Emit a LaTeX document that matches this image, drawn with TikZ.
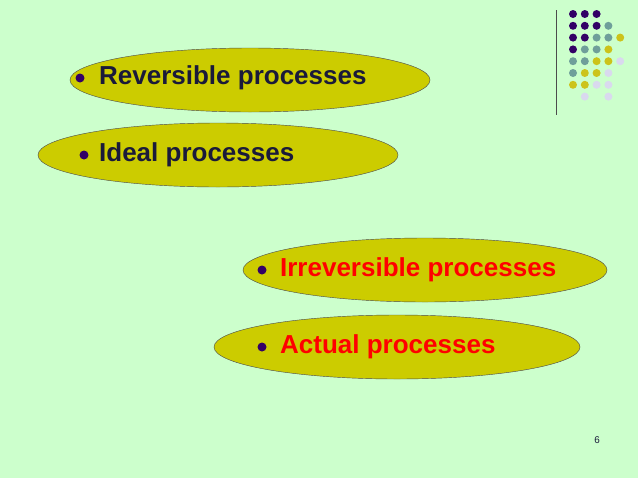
\documentclass[tikz,border=0pt]{standalone}
\usepackage{fontspec}
\setmainfont{Liberation Sans}
\definecolor{bgreen}{HTML}{CCFFCC}
\definecolor{olive}{HTML}{CCCC00}
\definecolor{dpurple}{HTML}{330066}
\definecolor{sgrey}{HTML}{6F9F9A}
\definecolor{dyellow}{HTML}{CCC31A}
\definecolor{lilac}{HTML}{D9D9EE}
\definecolor{navy}{HTML}{1A1A3A}
\tikzset{
  oval/.style={draw=black!70, line width=0.6pt, fill=olive},
  bullet/.style={circle, inner sep=0pt, minimum size=4.5mm, fill=dpurple},
  item/.style={anchor=west, font=\fontsize{37}{42}\selectfont\bfseries, inner sep=0pt},
  dot/.style={circle, inner sep=0pt, minimum size=4mm, fill=#1}
}
\begin{document}
\begin{tikzpicture}[x=0.05cm, y=-0.05cm]
\useasboundingbox[fill=bgreen] (0,0) rectangle (638,478);

% -- ovals
\draw[oval] (250,80) ellipse (180 and 32);
\draw[oval] (218,155) ellipse (180 and 32);
\draw[oval] (425,270) ellipse (182 and 32);
\draw[oval] (397,347) ellipse (183 and 32);

% -- items
\node[bullet] (b1) at (80,78) {};
\node[item, text=navy] (t1) at (99,78) {Reversible processes};
\node[bullet] (b2) at (84,155) {};
\node[item, text=navy] (t2) at (99,155) {Ideal processes};
\node[bullet] (b3) at (262,270) {};
\node[item, text=red] (t3) at (280,270) {Irreversible processes};
\node[bullet] (b4) at (262,347) {};
\node[item, text=red] (t4) at (280,347) {Actual processes};

% -- corner decoration
\draw[black!70, line width=0.8pt] (556,10) -- (556,115);
\foreach \i/\r/\col in {0/0/dpurple,1/0/dpurple,2/0/dpurple,
    0/1/dpurple,1/1/dpurple,2/1/dpurple,3/1/sgrey,
    0/2/dpurple,1/2/dpurple,2/2/sgrey,3/2/sgrey,4/2/dyellow,
    0/3/dpurple,1/3/sgrey,2/3/sgrey,3/3/dyellow,
    0/4/sgrey,1/4/sgrey,2/4/dyellow,3/4/dyellow,4/4/lilac,
    0/5/sgrey,1/5/dyellow,2/5/dyellow,3/5/lilac,
    0/6/dyellow,1/6/dyellow,2/6/lilac,3/6/lilac,
    1/7/lilac,3/7/lilac}
  \node[dot=\col] at (573+11.8*\i,14+11.8*\r) {};

\node[font=\fontsize{14}{16}\selectfont, text=navy] (pg) at (597,440) {6};
\end{tikzpicture}
\end{document}
